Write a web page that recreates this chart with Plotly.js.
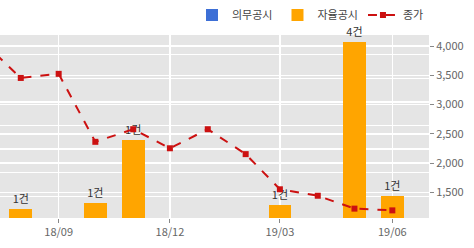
<!DOCTYPE html>
<html>
<head>
<meta charset="utf-8">
<script src="https://cdn.plot.ly/plotly-3.0.1.min.js"></script>
<style>html,body{margin:0;padding:0;background:#fff;}#chart{width:474px;height:248px;}</style>
</head>
<body>
<div id="chart"></div>
<script>
// Data
const priceDates = ['2018-07-01','2018-08-01','2018-09-01','2018-10-01','2018-11-01','2018-12-01','2019-01-01','2019-02-01','2019-03-01','2019-04-01','2019-05-01','2019-06-01'];
const priceValues = [4070, 3455, 3525, 2365, 2580, 2255, 2580, 2155, 1555, 1445, 1225, 1195];
const disclosureDates = ['2018-08-01','2018-10-01','2018-11-01','2019-03-01','2019-05-01','2019-06-01'];
const disclosureHeights = [225, 352, 1690, 316, 3765, 505];
const disclosureLabels = ['1건','1건','1건','1건','4건','1건'];
const xTickVals = ['2018-09-01','2018-12-01','2019-03-01','2019-06-01'];
const xTickText = ['18/09','18/12','19/03','19/06'];
const yTickVals = [1500, 2000, 2500, 3000, 3500, 4000];

const font = '"Noto Sans CJK KR", "Noto Sans", sans-serif';
const barWidth = 18.5 * 86400000;

const traces = [
  {
    type: 'bar', name: '의무공시', x: [null], y: [null],
    marker: {color: '#3D6FD6'}, yaxis: 'y', showlegend: true, hoverinfo: 'skip'
  },
  {
    type: 'bar', name: '자율공시', x: disclosureDates, y: disclosureHeights,
    width: disclosureDates.map(() => barWidth),
    marker: {color: '#FFA500'}, yaxis: 'y',
    text: disclosureLabels, textposition: 'outside', cliponaxis: false,
    textfont: {family: font, size: 11, color: '#333'}
  },
  {
    type: 'scatter', mode: 'lines+markers', name: '종가',
    x: priceDates, y: priceValues, yaxis: 'y2',
    line: {color: '#CC1111', width: 2, dash: 'dash'},
    marker: {color: '#CC1111', symbol: 'square', size: 6}
  }
];

const layout = {
  width: 474, height: 248,
  margin: {l: 0, r: 45, t: 35, b: 30},
  paper_bgcolor: '#FFFFFF',
  plot_bgcolor: '#E5E5E5',
  font: {family: font, size: 11, color: '#555'},
  showlegend: true,
  legend: {
    orientation: 'h', x: 1.0, xanchor: 'right', y: 1.03, yanchor: 'bottom',
    font: {family: font, size: 11, color: '#444'},
    bgcolor: 'rgba(0,0,0,0)', traceorder: 'normal', itemwidth: 30
  },
  bargap: 0,
  xaxis: {
    type: 'date',
    range: ['2018-07-15', '2019-07-01'],
    tickvals: xTickVals, ticktext: xTickText,
    showgrid: true, gridcolor: '#FFFFFF', gridwidth: 1.5,
    ticks: 'outside', ticklen: 4, tickcolor: '#888',
    tickfont: {family: font, size: 11, color: '#666'},
    zeroline: false, showline: false
  },
  yaxis: {
    range: [40, 3917], dtick: 500, tick0: 0,
    showticklabels: false, ticks: '',
    showgrid: true, gridcolor: '#FFFFFF', gridwidth: 1.5,
    zeroline: false, showline: false
  },
  yaxis2: {
    overlaying: 'y', side: 'right',
    range: [1065, 4188],
    tickvals: yTickVals, tickformat: ',',
    ticks: 'outside', ticklen: 4, tickcolor: '#888',
    tickfont: {family: font, size: 11, color: '#666'},
    showgrid: true, gridcolor: '#FFFFFF', gridwidth: 1.5,
    zeroline: false, showline: false
  }
};

Plotly.newPlot('chart', traces, layout, {displayModeBar: false, staticPlot: true});
</script>
</body>
</html>
